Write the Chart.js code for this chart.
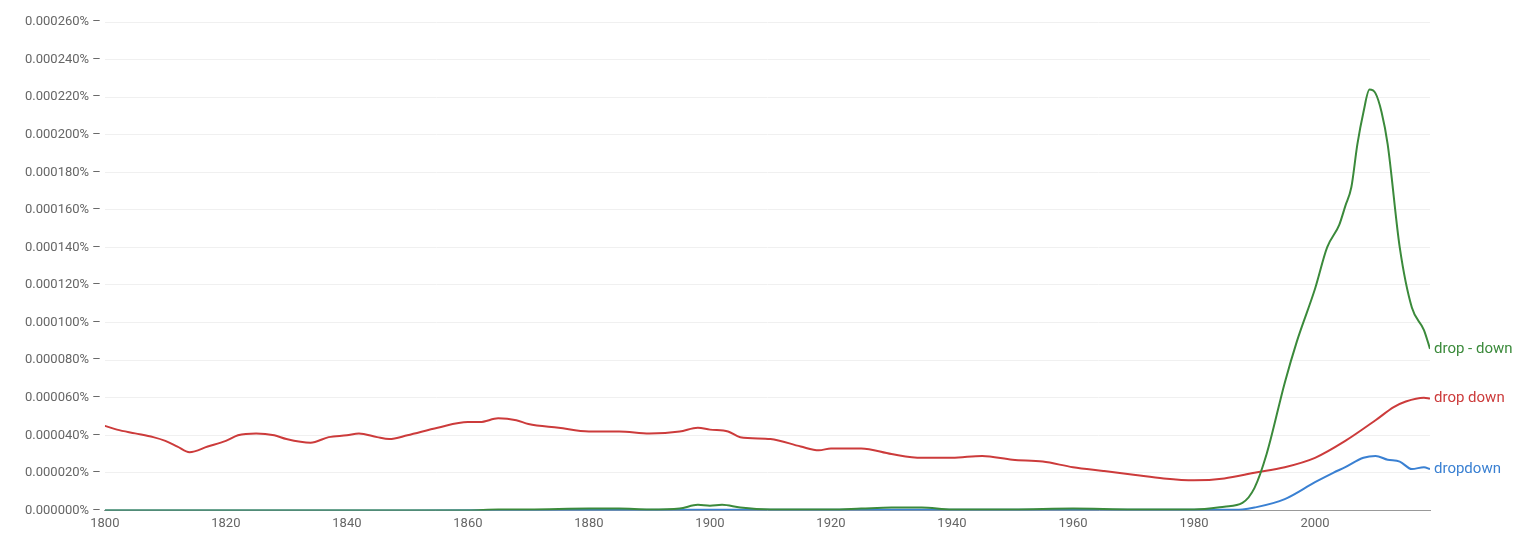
<!DOCTYPE html>
<html><head><meta charset="utf-8">
<script src="https://cdn.jsdelivr.net/npm/chart.js@4"></script>
<style>html,body{margin:0;background:#fff}#w{width:1536px;height:533px}</style>
</head><body><div id="w"><canvas id="c"></canvas></div>
<script>
// values in millionths of a percent (e.g. 45 => 0.000045%)
const redYears=[1800,1802,1805,1808,1810,1812,1814,1817,1820,1822,1825,1828,1830,1834,1837,1840,1842,1845,1847,1850,1855,1860,1862,1865,1868,1870,1875,1880,1885,1890,1895,1898,1900,1903,1905,1910,1915,1918,1920,1925,1930,1935,1940,1945,1950,1955,1960,1965,1970,1975,1980,1985,1990,1995,2000,2005,2010,2013,2015,2018,2019];
const redVals=[45,43,41,39,37,34,31,34,37,40,41,40,38,36,39,40,41,39,38,40,44,47,47,49,48,46,44,42,42,41,42,44,43,42,39,38,34,32,33,33,30,28,28,29,27,26,23,21,19,17,16,17,20,23,28,37,48,55,58,60,59.5];
const greenYears=[1800,1820,1840,1860,1865,1870,1880,1885,1890,1895,1898,1900,1902,1905,1910,1920,1925,1930,1935,1940,1950,1960,1970,1980,1985,1988,1990,1992,1995,1997,2000,2002,2004,2005,2006,2007,2008,2009,2010,2011,2012,2014,2016,2018,2019];
const greenVals=[0,0,0,0,0.5,0.5,1,1,0.5,1,3,2.5,3,1.5,0.5,0.5,1,1.5,1.5,0.5,0.5,1,0.5,0.5,2,4,12,30,68,90,118,140,152,162,172,195,212,224,222,212,195,140,108,96,86];
const blueYears=[1800,1850,1900,1950,1985,1988,1990,1995,2000,2003,2005,2008,2010,2012,2014,2016,2018,2019];
const blueVals=[0,0,0.3,0.3,0.3,0.5,1.5,6,15,20,23,28,29,27,26,22,23,22];
const seriesNames=['drop - down','drop down','dropdown'];
const seriesColors=['#3b8a3b','#cc3b3b','#3a80d2'];
const pts=(xs,ys)=>xs.map((x,i)=>({x,y:ys[i]}));
const endLabels={id:'endLabels',afterDatasetsDraw(ch){const c=ch.ctx;c.save();c.font='15px Roboto';c.textBaseline='middle';
ch.data.datasets.forEach((d,i)=>{const m=ch.getDatasetMeta(i);const p=m.data[m.data.length-1];c.fillStyle=d.borderColor;c.fillText(d.label,p.x+4,p.y);});c.restore();}};
new Chart(document.getElementById('c'),{type:'line',
data:{datasets:[
{label:seriesNames[0],data:pts(greenYears,greenVals),borderColor:seriesColors[0]},
{label:seriesNames[1],data:pts(redYears,redVals),borderColor:seriesColors[1]},
{label:seriesNames[2],data:pts(blueYears,blueVals),borderColor:seriesColors[2]}]},
options:{responsive:true,maintainAspectRatio:false,animation:false,
layout:{padding:{top:22,right:106,left:21,bottom:0}},
elements:{point:{radius:0},line:{borderWidth:2,tension:0.4,cubicInterpolationMode:'monotone'}},
plugins:{legend:{display:false},tooltip:{enabled:false}},
scales:{
x:{type:'linear',min:1800,max:2019,
afterBuildTicks:s=>{s.ticks=s.ticks.filter(t=>t.value%20===0);},
ticks:{stepSize:20,color:'#666',padding:1,font:{family:'Roboto',size:13},callback:v=>String(v)},
grid:{display:false,drawTicks:true,tickLength:5,color:'#999'},border:{color:'#999'}},
y:{min:0,max:260,
ticks:{stepSize:20,color:'#666',padding:4,font:{family:'Roboto',size:13},callback:v=>(v*1e-6).toFixed(6)+'% –'},
grid:{color:'#f0f0f0',drawTicks:false},border:{display:false}}}},
plugins:[endLabels]});
</script></body></html>
